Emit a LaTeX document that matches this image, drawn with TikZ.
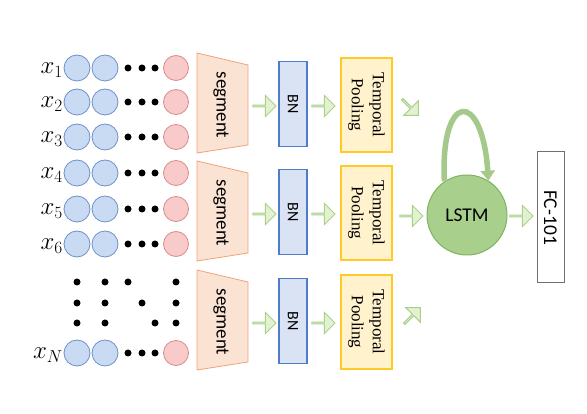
\documentclass[tikz,border=0pt]{standalone}
\usepackage{fontspec}
\newfontfamily\carl{Carlito}
\newfontfamily\tms{Liberation Serif}
\usetikzlibrary{shapes.arrows,arrows.meta}
\definecolor{bluefill}{HTML}{C9DAF3}
\definecolor{bluedraw}{HTML}{6F8FCB}
\definecolor{redfill}{HTML}{F9CACA}
\definecolor{reddraw}{HTML}{D98A8A}
\definecolor{segfill}{HTML}{FBE3D4}
\definecolor{segdraw}{HTML}{F1A27A}
\definecolor{bnfill}{HTML}{DAE3F3}
\definecolor{bndraw}{HTML}{4F7BC8}
\definecolor{tpfill}{HTML}{FFF2CC}
\definecolor{tpdraw}{HTML}{FFC926}
\definecolor{arrfill}{HTML}{E2F2D0}
\definecolor{arrdraw}{HTML}{A9D18E}
\definecolor{lstmfill}{HTML}{A8D08C}
\definecolor{lstmdraw}{HTML}{7FB35F}
\definecolor{loopc}{HTML}{A5C98A}
\definecolor{fcdraw}{HTML}{707070}
\newcommand\myxfont{\fontsize{23}{27}\selectfont}
\newcommand\mysegfont{\carl\fontsize{19}{22}\selectfont}
\newcommand\mybnfont{\carl\fontsize{16}{19}\selectfont}
\newcommand\mytpfont{\tms\fontsize{17}{21}\selectfont}
\newcommand\mybigfont{\carl\fontsize{19.5}{23}\selectfont}
\tikzset{
  bc/.style={circle,draw=bluedraw,fill=bluefill,minimum size=26pt,inner sep=0pt,line width=0.8pt},
  rc/.style={circle,draw=reddraw,fill=redfill,minimum size=25pt,inner sep=0pt,line width=0.8pt},
  dotc/.style={circle,fill=black,minimum size=7pt,inner sep=0pt},
  xlab/.style={anchor=east,inner sep=0pt,font=\myxfont},
  segbox/.style={draw=segdraw,fill=segfill,line width=0.8pt},
  segtxt/.style={rotate=-90,inner sep=0pt,font=\mysegfont},
  bnbox/.style={draw=bndraw,fill=bnfill,line width=1.2pt,minimum width=28pt,minimum height=85pt,inner sep=0pt},
  bntxt/.style={rotate=-90,inner sep=0pt,font=\mybnfont},
  tpbox/.style={draw=tpdraw,fill=tpfill,line width=1.4pt,minimum width=51pt,minimum height=94pt,inner sep=0pt},
  tptxt/.style={rotate=-90,inner sep=0pt,font=\mytpfont,align=center},
  blk/.style={single arrow,draw=arrdraw,fill=arrfill,line width=1pt,minimum height=23pt,minimum width=21pt,single arrow head extend=5pt,single arrow tip angle=90,inner sep=0pt},
}
\begin{document}
\begin{tikzpicture}[x=1pt,y=-1pt]
\useasboundingbox (0,0) rectangle (587,414);
% input rows
\foreach \yy [count=\i] in {68,102,137,173,209,244,353}{
  \node[bc] (b\i) at (77,\yy) {};
  \node[bc] (c\i) at (105,\yy) {};
  \node[dotc] (d\i a) at (128,\yy) {};
  \node[dotc] (d\i b) at (142,\yy) {};
  \node[dotc] (d\i c) at (155,\yy) {};
  \node[rc] (r\i) at (176,\yy) {};
}
\node[xlab] (lab1) at (63,70) {$x_{1}$};
\node[xlab] (lab2) at (63,104) {$x_{2}$};
\node[xlab] (lab3) at (63,139) {$x_{3}$};
\node[xlab] (lab4) at (63,175) {$x_{4}$};
\node[xlab] (lab5) at (63,211) {$x_{5}$};
\node[xlab] (lab6) at (63,246) {$x_{6}$};
\node[xlab] (lab7) at (63,355) {$x_{N}$};
% vertical dots
\foreach \yy/\xd [count=\j] in {282/128,303/142,323/155}{
  \node[dotc] (v\j a) at (77,\yy) {};
  \node[dotc] (v\j b) at (105,\yy) {};
  \node[dotc] (v\j c) at (\xd,\yy) {};
  \node[dotc] (v\j d) at (176,\yy) {};
}
% three branches
\foreach \cc/\kk in {103/1,211/2,320/3}{
  \draw[segbox] (197,\cc-50) -- (248,\cc-38) -- (248,\cc+42) -- (197,\cc+50) -- cycle;
  \node[blk] (ga\kk) at (264,\cc+3) {};
  \node[bnbox] (bn\kk) at (293,\cc+1) {};
  \node[blk] (gb\kk) at (323,\cc+3) {};
  \node[tpbox] (tp\kk) at (366.5,\cc+2) {};
}
\node[segtxt] (seg1) at (221,105) {segment};
\node[segtxt] (seg2) at (221,213) {segment};
\node[segtxt] (seg3) at (221,322) {segment};
\node[bntxt] (bnt1) at (bn1) {BN};
\node[bntxt] (bnt2) at (bn2) {BN};
\node[bntxt] (bnt3) at (bn3) {BN};
\node[tptxt] (tpt1) at (tp1) {Temporal\\Pooling};
\node[tptxt] (tpt2) at (tp2) {Temporal\\Pooling};
\node[tptxt] (tpt3) at (tp3) {Temporal\\Pooling};
\node[blk,rotate=-45] (gc1) at (410,107) {};
\node[blk] (gc2) at (411,216) {};
\node[blk,rotate=45] (gc3) at (412,316) {};
% LSTM
\node[circle,draw=lstmdraw,fill=lstmfill,line width=1pt,minimum size=80pt,inner sep=0pt,font=\mybigfont] (lstm) at (467,215) {LSTM};
\draw[loopc,line width=5.5pt,-{Triangle[width=14pt,length=10pt]}] (lstm.124) .. controls (440,92) and (482,88) .. (lstm.58);
\node[blk] (gd) at (521,216) {};
\node[draw=fcdraw,fill=white,line width=1pt,minimum width=27pt,minimum height=131pt,inner sep=0pt] (fc) at (550.5,217.5) {};
\node[rotate=-90,font=\mybigfont] (fct) at (fc) {FC-101};
\end{tikzpicture}
\end{document}
